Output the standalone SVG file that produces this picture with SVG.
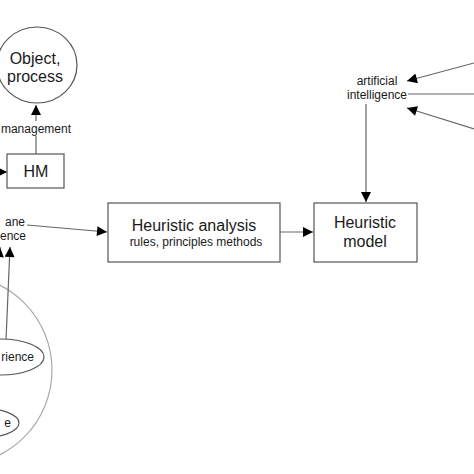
<svg xmlns="http://www.w3.org/2000/svg" width="474" height="474" viewBox="0 0 474 474">
<style>
text{font-family:"Liberation Sans",Arial,sans-serif;fill:#1a1a1a}
.box{fill:#fff;stroke:#555;stroke-width:1.2}
.ln{stroke:#666;stroke-width:1.2;fill:none}
.big{font-size:16px}
.sm{font-size:12px}
</style>
<defs>
<marker id="ah" viewBox="0 0 10 10" refX="10" refY="5" markerWidth="11" markerHeight="10" markerUnits="userSpaceOnUse" orient="auto">
<path d="M0,0 L10,5 L0,10 z" fill="#000"/>
</marker>
</defs>
<rect width="474" height="474" fill="#fff"/>
<g id="group-circle">
<circle cx="-43" cy="370" r="95" fill="none" stroke="#aaa" stroke-width="1.2"/>
</g>
<g id="connectors">
<line class="ln" x1="36" y1="154" x2="36" y2="105" marker-end="url(#ah)"/>
<line class="ln" x1="-5" y1="172" x2="7" y2="172" marker-end="url(#ah)"/>
<line class="ln" x1="27" y1="225" x2="107" y2="232" marker-end="url(#ah)"/>
<line class="ln" x1="6" y1="340" x2="10" y2="247" marker-end="url(#ah)"/>
<line class="ln" x1="-6" y1="300" x2="0" y2="247" marker-end="url(#ah)"/>
<line class="ln" x1="280" y1="232" x2="313" y2="232" marker-end="url(#ah)"/>
<line class="ln" x1="366" y1="104" x2="366" y2="202" marker-end="url(#ah)"/>
<line class="ln" x1="474" y1="63" x2="407" y2="81" marker-end="url(#ah)"/>
<line class="ln" x1="408" y1="94" x2="474" y2="94"/>
<line class="ln" x1="474" y1="129" x2="407" y2="108" marker-end="url(#ah)"/>
</g>
<g id="object-process">
<ellipse cx="37" cy="65" rx="40" ry="38" fill="#fff" stroke="#555" stroke-width="1.2"/>
<text class="big" x="35" y="64" text-anchor="middle">Object,</text>
<text class="big" x="35" y="82" text-anchor="middle">process</text>
</g>
<g id="management-label">
<rect x="0" y="121" width="72" height="15" fill="#fff"/>
<text class="sm" x="71" y="133" text-anchor="end">management</text>
</g>
<g id="hm">
<rect class="box" x="7" y="154" width="57" height="34"/>
<text class="big" x="36" y="177" text-anchor="middle">HM</text>
</g>
<g id="human-intelligence">
<text class="sm" x="25" y="226" text-anchor="end">ane</text>
<text class="sm" x="0" y="240">ence</text>
</g>
<g id="experience">
<ellipse cx="0" cy="357" rx="44" ry="18" fill="#fff" stroke="#555" stroke-width="1.2"/>
<text class="sm" x="34" y="361" text-anchor="end">rience</text>
</g>
<g id="e-node">
<ellipse cx="-20" cy="423" rx="39" ry="15" fill="#fff" stroke="#555" stroke-width="1.2"/>
<text class="sm" x="11" y="427" text-anchor="end">e</text>
</g>
<g id="heuristic-analysis">
<rect class="box" x="108" y="203" width="172" height="59"/>
<text class="big" x="194" y="231" text-anchor="middle">Heuristic analysis</text>
<text class="sm" x="196" y="246" text-anchor="middle">rules, principles methods</text>
</g>
<g id="heuristic-model">
<rect class="box" x="314" y="203" width="103" height="59"/>
<text class="big" x="365" y="228" text-anchor="middle">Heuristic</text>
<text class="big" x="365" y="247" text-anchor="middle">model</text>
</g>
<g id="artificial-intelligence">
<text class="sm" x="377" y="85" text-anchor="middle">artificial</text>
<text class="sm" x="377" y="99" text-anchor="middle">intelligence</text>
</g>
</svg>
